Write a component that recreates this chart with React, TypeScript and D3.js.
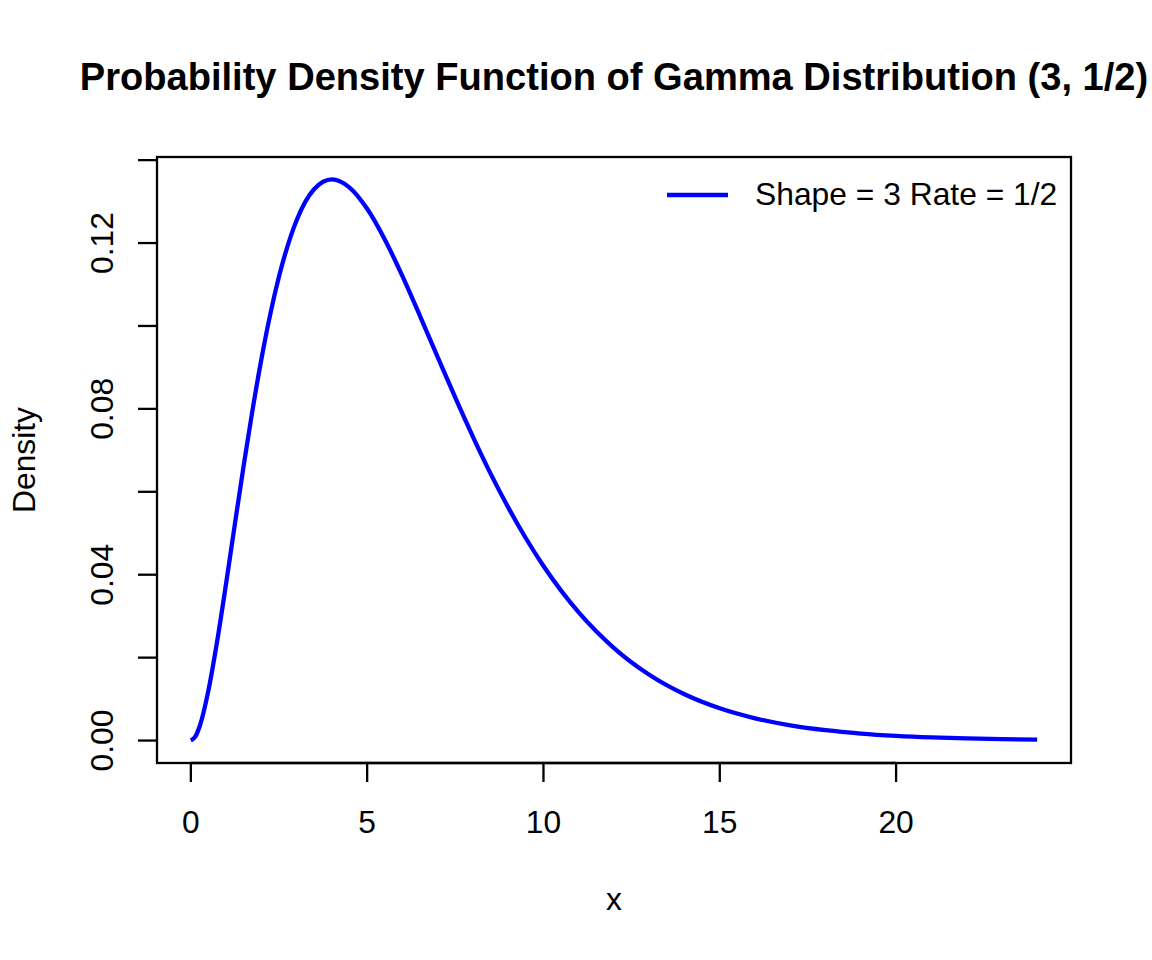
import React from "react";
import * as d3 from "d3";

const xValues = [0, 0.125, 0.25, 0.5, 0.75, 1, 1.25, 1.5, 1.75, 2, 2.25, 2.5, 3, 3.5, 4, 4.5, 5, 5.5, 6, 6.5, 7, 7.5, 8, 8.5, 9, 9.5, 10, 11, 12, 13, 14, 15, 16, 17, 18, 19, 20, 21, 22, 23, 24];
const densityValues = [0, 0.00092, 0.00345, 0.01217, 0.02416, 0.03791, 0.05228, 0.06643, 0.07979, 0.09197, 0.10274, 0.11191, 0.12551, 0.13304, 0.13534, 0.13339, 0.12826, 0.12086, 0.11202, 0.10238, 0.09249, 0.08269, 0.07326, 0.06439, 0.05624, 0.0488, 0.04211, 0.03091, 0.02231, 0.01588, 0.01117, 0.00778, 0.00537, 0.00367, 0.0025, 0.00169, 0.00114, 0.00076, 0.00051, 0.00033, 0.00022];
const xTicks = [0, 5, 10, 15, 20];
const yTicks = [0, 0.02, 0.04, 0.06, 0.08, 0.1, 0.12, 0.14];
const yTickLabels = ["0.00", "", "0.04", "", "0.08", "", "0.12", ""];
const title = "Probability Density Function of Gamma Distribution (3, 1/2)";
const legendLabel = "Shape = 3 Rate = 1/2";

export default function App() {
  const W = 1152, H = 960;
  const left = 157, right = 1071, top = 157, bottom = 763;
  const xMin = 0, xMax = 24;
  const yMax = d3.max(densityValues) as number;
  const xPad = (xMax - xMin) * 0.04;
  const yPad = yMax * 0.04;
  const x = d3.scaleLinear().domain([xMin - xPad, xMax + xPad]).range([left, right]);
  const y = d3.scaleLinear().domain([0 - yPad, yMax + yPad]).range([bottom, top]);
  const pts: [number, number][] = xValues.map((v, i) => [v, densityValues[i]]);
  const line = d3.line<[number, number]>().x(d => x(d[0])).y(d => y(d[1])).curve(d3.curveMonotoneX);
  const font = "Liberation Sans, Arial, sans-serif";
  const fs = 31.8;
  const tick = 19;
  const cx = (left + right) / 2;
  const cy = (top + bottom) / 2;
  return (
    <svg width={W} height={H} style={{ position: "absolute", left: 0, top: 0, background: "#fff" }} fontFamily={font}>
      <rect x={0} y={0} width={W} height={H} fill="#fff" />
      <text x={cx} y={90} textAnchor="middle" fontSize={38.1} fontWeight="bold">{title}</text>
      <rect x={left} y={top} width={right - left} height={bottom - top} fill="none" stroke="#000" strokeWidth={2.3} />
      {xTicks.map(t => (
        <g key={"x" + t}>
          <line x1={x(t)} x2={x(t)} y1={bottom} y2={bottom + tick} stroke="#000" strokeWidth={2.3} />
          <text x={x(t)} y={833} textAnchor="middle" fontSize={fs}>{t}</text>
        </g>
      ))}
      <line x1={x(xTicks[0])} x2={x(xTicks[xTicks.length - 1])} y1={bottom} y2={bottom} stroke="#000" strokeWidth={2.3} />
      {yTicks.map((t, i) => (
        <g key={"y" + t}>
          <line x1={left - tick} x2={left} y1={y(t)} y2={y(t)} stroke="#000" strokeWidth={2.3} />
          {yTickLabels[i] && (
            <text transform={`translate(113,${y(t)}) rotate(-90)`} textAnchor="middle" fontSize={fs}>{yTickLabels[i]}</text>
          )}
        </g>
      ))}
      <text x={cx} y={910} textAnchor="middle" fontSize={fs}>x</text>
      <text transform={`translate(35,${cy}) rotate(-90)`} textAnchor="middle" fontSize={fs}>Density</text>
      <path d={line(pts) || ""} fill="none" stroke="#0000ff" strokeWidth={4.3} strokeLinejoin="round" />
      <line x1={667} x2={728} y1={195} y2={195} stroke="#0000ff" strokeWidth={4.3} />
      <text x={755} y={205} fontSize={fs}>{legendLabel}</text>
    </svg>
  );
}
